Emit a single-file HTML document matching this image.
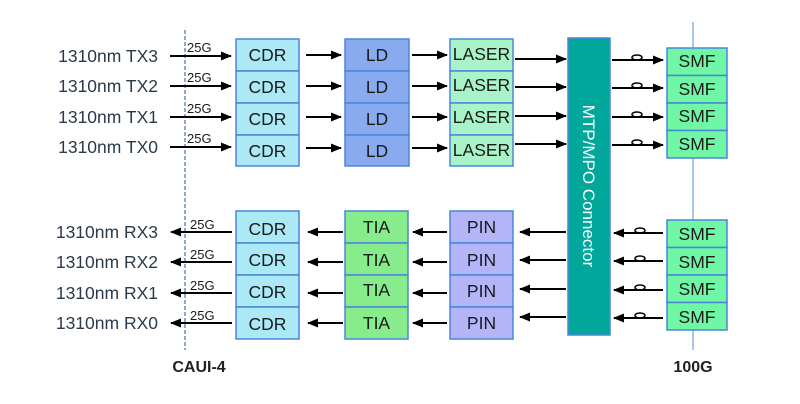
<!DOCTYPE html>
<html><head><meta charset="utf-8"><style>
html,body{margin:0;padding:0;background:#fff;}
svg{display:block;font-family:"Liberation Sans",sans-serif;}
</style></head><body>
<svg width="800" height="404" viewBox="0 0 800 404" xmlns="http://www.w3.org/2000/svg">
<defs>
<marker id="ah" markerWidth="11" markerHeight="9" refX="10" refY="4.5" orient="auto" markerUnits="userSpaceOnUse">
<path d="M0,0 L11,4.5 L0,9 z" fill="#000"/></marker>
</defs>
<line x1="185" y1="30" x2="185" y2="350" stroke="#2a4e9a" stroke-width="1" stroke-dasharray="4,2"/>
<line x1="693" y1="22" x2="693" y2="350" stroke="#5b8bd6" stroke-width="1"/>

<g fill="#2a3a4a" font-size="17.5" text-anchor="end">
<text x="158" y="62">1310nm TX3</text>
<text x="158" y="92">1310nm TX2</text>
<text x="158" y="123">1310nm TX1</text>
<text x="158" y="153">1310nm TX0</text>
<text x="158" y="238">1310nm RX3</text>
<text x="158" y="268">1310nm RX2</text>
<text x="158" y="299">1310nm RX1</text>
<text x="158" y="329">1310nm RX0</text>
</g>

<g stroke="#4a86d8" stroke-width="1.5">
<rect x="236" y="39" width="63" height="32" fill="#abe9f6"/>
<rect x="236" y="71" width="63" height="32" fill="#abe9f6"/>
<rect x="236" y="103" width="63" height="32" fill="#abe9f6"/>
<rect x="236" y="135" width="63" height="31" fill="#abe9f6"/>
<rect x="345" y="39" width="64" height="32" fill="#8aaaf0"/>
<rect x="345" y="71" width="64" height="32" fill="#8aaaf0"/>
<rect x="345" y="103" width="64" height="32" fill="#8aaaf0"/>
<rect x="345" y="135" width="64" height="31" fill="#8aaaf0"/>
<rect x="450" y="39" width="63" height="32" fill="#a8f4c8"/>
<rect x="450" y="71" width="63" height="32" fill="#a8f4c8"/>
<rect x="450" y="103" width="63" height="32" fill="#a8f4c8"/>
<rect x="450" y="135" width="63" height="31" fill="#a8f4c8"/>
<rect x="236" y="211" width="63" height="32" fill="#abe9f6"/>
<rect x="236" y="243" width="63" height="32" fill="#abe9f6"/>
<rect x="236" y="275" width="63" height="32" fill="#abe9f6"/>
<rect x="236" y="307" width="63" height="32" fill="#abe9f6"/>
<rect x="345" y="211" width="63" height="32" fill="#86ec8c"/>
<rect x="345" y="243" width="63" height="32" fill="#86ec8c"/>
<rect x="345" y="275" width="63" height="32" fill="#86ec8c"/>
<rect x="345" y="307" width="63" height="32" fill="#86ec8c"/>
<rect x="450" y="211" width="63" height="32" fill="#b4b4f8"/>
<rect x="450" y="243" width="63" height="32" fill="#b4b4f8"/>
<rect x="450" y="275" width="63" height="32" fill="#b4b4f8"/>
<rect x="450" y="307" width="63" height="32" fill="#b4b4f8"/>
<rect x="667" y="48" width="60" height="27.5" fill="#6ff7a6"/>
<rect x="667" y="75.5" width="60" height="27.5" fill="#6ff7a6"/>
<rect x="667" y="103" width="60" height="27.5" fill="#6ff7a6"/>
<rect x="667" y="130.5" width="60" height="27.5" fill="#6ff7a6"/>
<rect x="667" y="220" width="60" height="27.5" fill="#6ff7a6"/>
<rect x="667" y="247.5" width="60" height="27.5" fill="#6ff7a6"/>
<rect x="667" y="275" width="60" height="27.5" fill="#6ff7a6"/>
<rect x="667" y="302.5" width="60" height="27.5" fill="#6ff7a6"/>
<rect x="568" y="38" width="42" height="297" fill="#00a79a"/>
</g>

<text transform="translate(583,186) rotate(90)" fill="#fff" font-size="17" text-anchor="middle">MTP/MPO Connector</text>

<g fill="#1a1a1a" font-size="17.5" text-anchor="middle">
<text x="267.5" y="61">CDR</text><text x="267.5" y="93">CDR</text><text x="267.5" y="125">CDR</text><text x="267.5" y="157">CDR</text>
<text x="377" y="61">LD</text><text x="377" y="93">LD</text><text x="377" y="125">LD</text><text x="377" y="157">LD</text>
<text x="481.5" y="60">LASER</text><text x="481.5" y="91">LASER</text><text x="481.5" y="123">LASER</text><text x="481.5" y="156">LASER</text>
<text x="267.5" y="235">CDR</text><text x="267.5" y="266">CDR</text><text x="267.5" y="298">CDR</text><text x="267.5" y="330">CDR</text>
<text x="376.5" y="233">TIA</text><text x="376.5" y="266">TIA</text><text x="376.5" y="296">TIA</text><text x="376.5" y="329">TIA</text>
<text x="481.5" y="233">PIN</text><text x="481.5" y="266">PIN</text><text x="481.5" y="297">PIN</text><text x="481.5" y="329">PIN</text>
<text x="697" y="67">SMF</text><text x="697" y="95">SMF</text><text x="697" y="122">SMF</text><text x="697" y="150">SMF</text>
<text x="697" y="240">SMF</text><text x="697" y="268">SMF</text><text x="697" y="295">SMF</text><text x="697" y="323">SMF</text>
</g>

<g fill="#1a1a1a" font-size="13">
<text x="187" y="52">25G</text><text x="187" y="82">25G</text><text x="187" y="113">25G</text><text x="187" y="143">25G</text>
<text x="190" y="229">25G</text><text x="190" y="259">25G</text><text x="190" y="290">25G</text><text x="190" y="320">25G</text>
</g>

<g stroke="#000" stroke-width="2" marker-end="url(#ah)">
<line x1="170" y1="56" x2="231" y2="56"/><line x1="170" y1="86" x2="231" y2="86"/><line x1="170" y1="117" x2="231" y2="117"/><line x1="170" y1="147" x2="231" y2="147"/>
<line x1="306" y1="55" x2="341" y2="55"/><line x1="306" y1="86" x2="341" y2="86"/><line x1="306" y1="117" x2="341" y2="117"/><line x1="306" y1="148" x2="341" y2="148"/>
<line x1="412" y1="55" x2="447" y2="55"/><line x1="412" y1="86" x2="447" y2="86"/><line x1="412" y1="117" x2="447" y2="117"/><line x1="412" y1="148" x2="447" y2="148"/>
<line x1="515" y1="59" x2="566" y2="59"/><line x1="515" y1="87" x2="566" y2="87"/><line x1="515" y1="116" x2="566" y2="116"/><line x1="515" y1="144" x2="566" y2="144"/>
<line x1="612" y1="60" x2="663" y2="60"/><line x1="612" y1="88" x2="663" y2="88"/><line x1="612" y1="117" x2="663" y2="117"/><line x1="612" y1="145" x2="663" y2="145"/>
<line x1="232" y1="232" x2="171" y2="232"/><line x1="232" y1="262" x2="171" y2="262"/><line x1="232" y1="293" x2="171" y2="293"/><line x1="232" y1="323" x2="171" y2="323"/>
<line x1="343" y1="232" x2="308" y2="232"/><line x1="343" y1="262" x2="308" y2="262"/><line x1="343" y1="293" x2="308" y2="293"/><line x1="343" y1="323" x2="308" y2="323"/>
<line x1="447" y1="232" x2="413" y2="232"/><line x1="447" y1="262" x2="413" y2="262"/><line x1="447" y1="293" x2="413" y2="293"/><line x1="447" y1="323" x2="413" y2="323"/>
<line x1="566" y1="232" x2="520" y2="232"/><line x1="566" y1="260" x2="520" y2="260"/><line x1="566" y1="289" x2="520" y2="289"/><line x1="566" y1="317" x2="520" y2="317"/>
<line x1="663" y1="233" x2="614" y2="233"/><line x1="663" y1="261" x2="614" y2="261"/><line x1="663" y1="290" x2="614" y2="290"/><line x1="663" y1="318" x2="614" y2="318"/>
</g>
<g fill="none" stroke="#000" stroke-width="1.5">
<ellipse cx="637" cy="57.5" rx="5" ry="2.5"/><ellipse cx="637" cy="85.5" rx="5" ry="2.5"/><ellipse cx="637" cy="114.5" rx="5" ry="2.5"/><ellipse cx="637" cy="142.5" rx="5" ry="2.5"/>
<ellipse cx="640" cy="230.5" rx="5" ry="2.5"/><ellipse cx="640" cy="258.5" rx="5" ry="2.5"/><ellipse cx="640" cy="287.5" rx="5" ry="2.5"/><ellipse cx="640" cy="315.5" rx="5" ry="2.5"/>
</g>

<g fill="#222" font-size="16" font-weight="bold" text-anchor="middle">
<text x="199" y="372">CAUI-4</text>
<text x="693" y="372">100G</text>
</g>
</svg>
</body></html>
